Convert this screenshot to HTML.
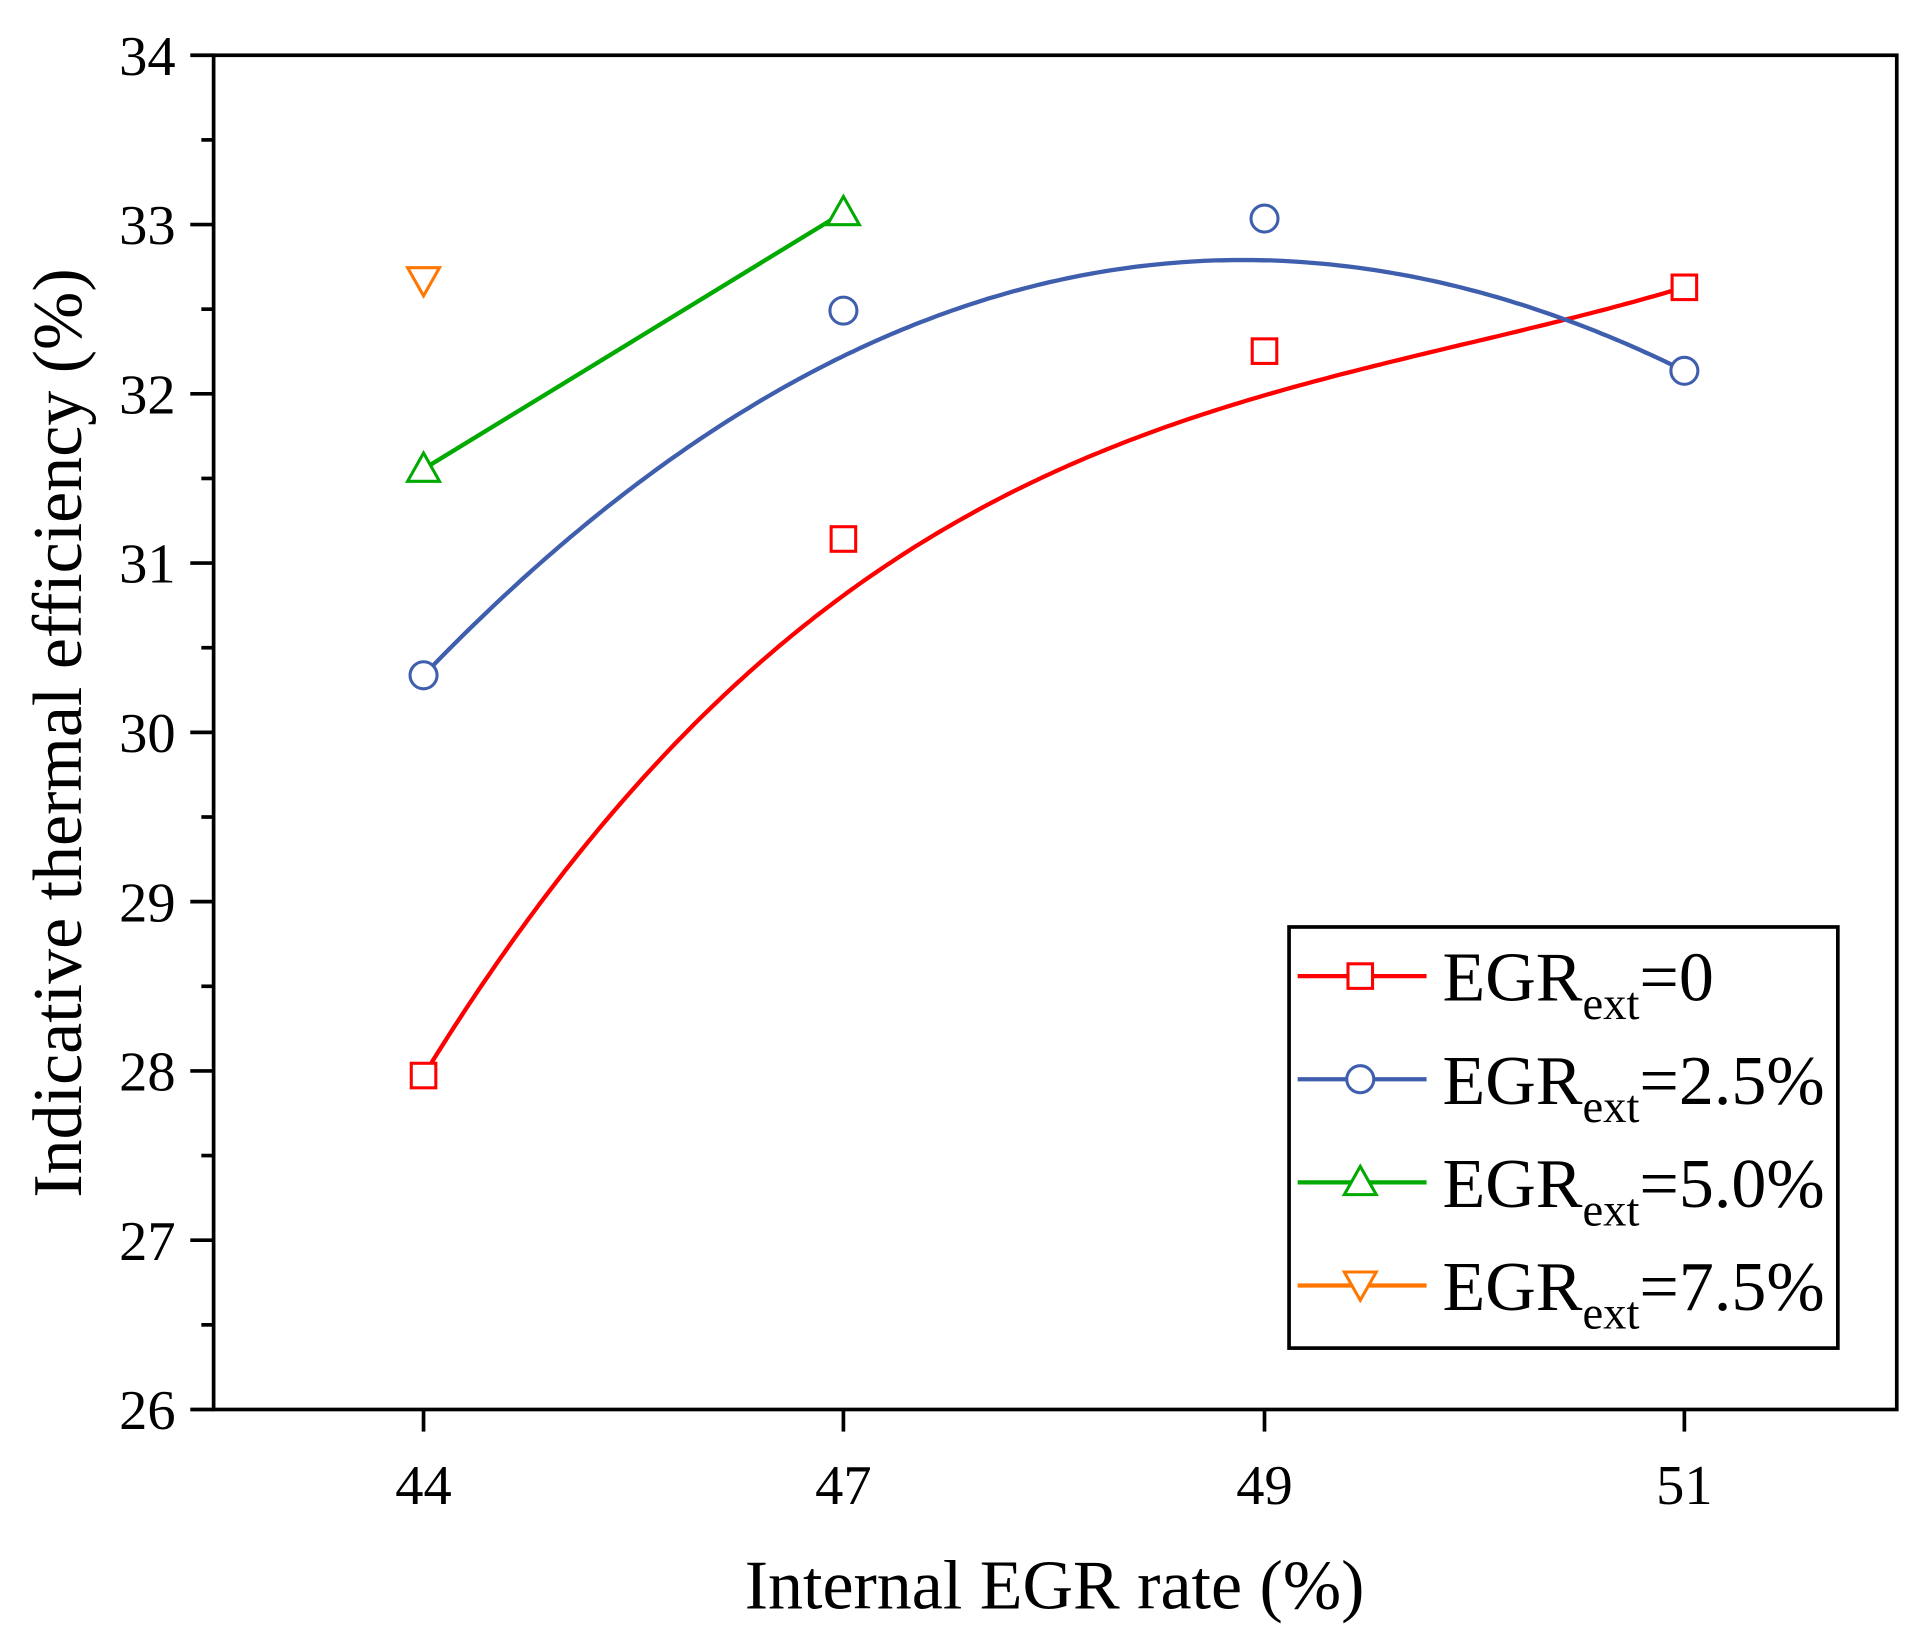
<!DOCTYPE html>
<html><head><meta charset="utf-8"><style>html,body{margin:0;padding:0;background:#fff}svg{display:block}</style></head>
<body>
<svg id="s" width="1925" height="1644" viewBox="0 0 1568 1339" preserveAspectRatio="none" xmlns="http://www.w3.org/2000/svg" font-family="Liberation Serif, serif">
<rect x="174" y="45" width="1371" height="1103" fill="none" stroke="#000" stroke-width="3"/>
<g id="ticks" stroke="#000" stroke-width="3"></g>
<g font-size="46" text-anchor="end" id="yl"></g>
<g font-size="46" text-anchor="middle">
<text x="345" y="1225">44</text><text x="687" y="1225">47</text><text x="1030" y="1225">49</text><text x="1372" y="1225">51</text>
</g>
<text x="859" y="1310" font-size="57" text-anchor="middle">Internal EGR rate (%)</text>
<text transform="translate(66,597) rotate(-90)" font-size="57" text-anchor="middle">Indicative thermal efficiency (%)</text>
<path id="red" fill="none" stroke="#f00" stroke-width="3.5"/>
<path id="blue" fill="none" stroke="#3f5fae" stroke-width="3.5"/>
<line x1="345" y1="382" x2="687" y2="173" stroke="#0a0" stroke-width="3.5"/>
<g fill="#fff" stroke-width="2.5">
<g stroke="#f00"><rect x="335" y="866" width="20" height="20"/><rect x="677" y="429" width="20" height="20"/><rect x="1020" y="276" width="20" height="20"/><rect x="1362" y="224" width="20" height="20"/></g>
<g stroke="#3f5fae"><circle cx="345" cy="550" r="11"/><circle cx="687" cy="253" r="11"/><circle cx="1030" cy="178" r="11"/><circle cx="1372" cy="302" r="11"/></g>
<g stroke="#0a0"><polygon points="345,369 332,392 358,392"/><polygon points="687,160 674,183 700,183"/></g>
<polygon stroke="#f70" points="345,241 332,218 358,218"/>
</g>
<rect x="1050" y="755" width="447" height="343" fill="#fff" stroke="#000" stroke-width="3"/>
<g stroke-width="3.5" fill="#fff">
<line x1="1057" y1="795" x2="1162" y2="795" stroke="#f00"/><rect x="1098" y="785" width="20" height="20" stroke="#f00" stroke-width="2.5"/>
<line x1="1057" y1="879" x2="1162" y2="879" stroke="#3f5fae"/><circle cx="1108" cy="879" r="11" stroke="#3f5fae" stroke-width="2.5"/>
<line x1="1057" y1="963" x2="1162" y2="963" stroke="#0a0"/><polygon points="1108,950 1095,973 1121,973" stroke="#0a0" stroke-width="2.5"/>
<line x1="1057" y1="1047" x2="1162" y2="1047" stroke="#f70"/><polygon points="1108,1059 1095,1036 1121,1036" stroke="#f70" stroke-width="2.5"/>
</g>
<g font-size="57">
<text x="1175" y="815">EGR<tspan font-size="38" dy="15">ext</tspan><tspan dy="-15">=0</tspan></text>
<text x="1175" y="899">EGR<tspan font-size="38" dy="15">ext</tspan><tspan dy="-15">=2.5%</tspan></text>
<text x="1175" y="983">EGR<tspan font-size="38" dy="15">ext</tspan><tspan dy="-15">=5.0%</tspan></text>
<text x="1175" y="1067">EGR<tspan font-size="38" dy="15">ext</tspan><tspan dy="-15">=7.5%</tspan></text>
</g>
</svg>
<script>
var NS="http://www.w3.org/2000/svg";
var t=document.getElementById("ticks"),yl=document.getElementById("yl");
for(var i=0;i<=16;i++){var y=45+i*1103/16;var l=document.createElementNS(NS,"line");
l.setAttribute("x1",i%2?164:155);l.setAttribute("x2",174);l.setAttribute("y1",y);l.setAttribute("y2",y);t.appendChild(l);
if(i%2==0){var tx=document.createElementNS(NS,"text");tx.setAttribute("x",143);tx.setAttribute("y",y+16);tx.textContent=34-i/2;yl.appendChild(tx);}}
[345,687,1030,1372].forEach(function(x){var l=document.createElementNS(NS,"line");l.setAttribute("x1",x);l.setAttribute("x2",x);l.setAttribute("y1",1148);l.setAttribute("y2",1166);t.appendChild(l);});
function lag(P){var d="";for(var x=345;x<=1372;x+=5){var y=0;for(var i=0;i<4;i++){var L=1;for(var j=0;j<4;j++)if(j!=i)L*=(x-P[j][0])/(P[i][0]-P[j][0]);y+=L*P[i][1];}d+=(d?"L":"M")+x+","+y.toFixed(1);}return d;}
document.getElementById("red").setAttribute("d",lag([[345,876],[687,485],[1030,322],[1372,234]]));
document.getElementById("blue").setAttribute("d",lag([[345,550],[687,290],[1030,212],[1372,302]]));
</script>
</body></html>
